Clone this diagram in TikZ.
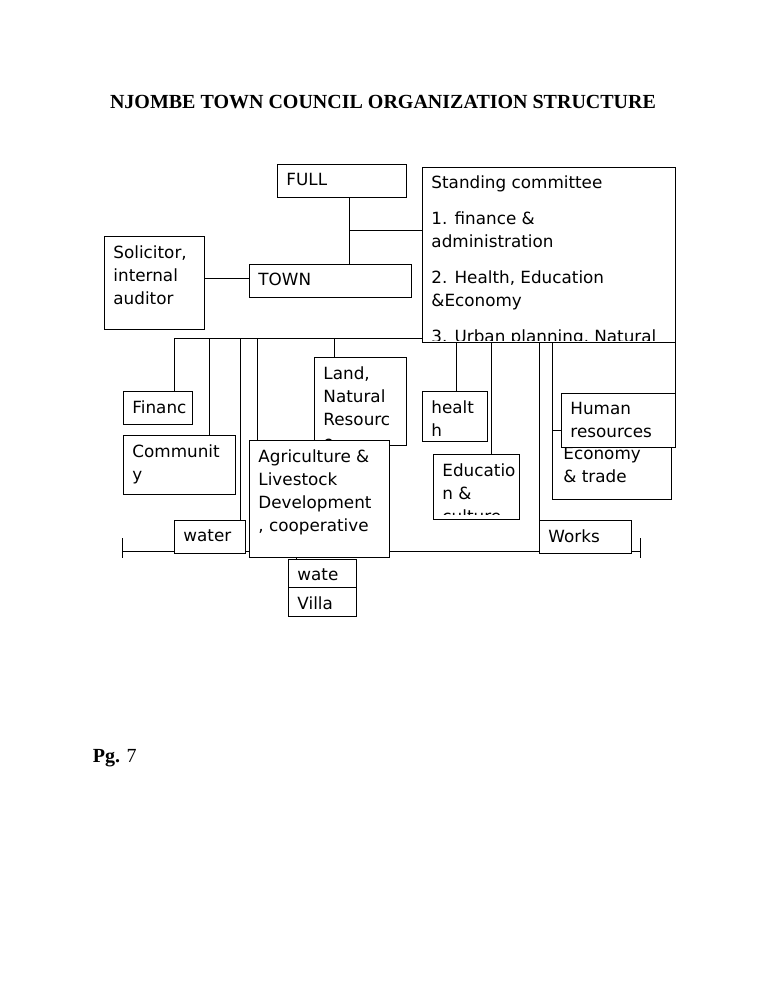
\documentclass[tikz,border=0pt]{standalone}
\usepackage{fontspec}
\setmainfont{Liberation Serif}
\newfontfamily\dv{DejaVu Sans}
\begin{document}
\begin{tikzpicture}[x=1pt,y=-1pt,line width=0.9pt]
\newcommand\bxfont{\dv\fontsize{16.8}{23}\selectfont}
\newcommand\bx[6]{\begin{scope}\draw[fill=white] (#2,#3) rectangle (#4,#5); \clip (#2,#3) rectangle (#4,#5-5);
 \node[name=#1,anchor=north west,align=left,inner sep=0,font=\bxfont] at (#2+9,#3+9) {#6};\end{scope}}
\useasboundingbox[fill=white] (0,0) rectangle (768,994);
\node[font=\bfseries\fontsize{20}{24}\selectfont] (title) at (383,102) {NJOMBE TOWN COUNCIL ORGANIZATION STRUCTURE};
\node[anchor=west,font=\fontsize{20}{24}\selectfont] (pg) at (89,758) {\textbf{Pg.} 7};
% connectors
\draw (349,197) -- (349,264) (349,230) -- (422,230) (204,278) -- (249,278);
\draw (174,338) -- (422,338);
\draw (174,338) -- (174,391) (209,338) -- (209,436) (240,338) -- (240,521) (257,338) -- (257,441) (334,338) -- (334,357);
\draw (456,342) -- (456,391) (491,342) -- (491,454) (539,342) -- (539,521) (552,342) -- (552,441) (675,342) -- (675,393);
\draw (122,551) -- (640,551) (122,538) -- (122,558) (640,538) -- (640,558);
\draw (296,557) -- (296,559);
% boxes
\bx{full}{277}{164}{406}{197}{FULL}
\bx{sol}{104}{236}{204}{329}{Solicitor,\\internal\\auditor}
\bx{town}{249}{264}{411}{297}{TOWN}
\bx{fin}{123}{391}{192}{424}{Financ}
\bx{com}{123}{435}{235}{494}{Communit\\y}
\bx{land}{314}{357}{406}{445}{Land,\\Natural\\Resourc\\e}
\bx{water}{174}{520}{245}{553}{water}
\bx{agri}{249}{440}{389}{557}{Agriculture \&\\Livestock\\Development\\, cooperative}
\bx{health}{422}{391}{487}{441}{healt\\h}
\bx{edu}{433}{454}{519}{519}{Educatio\\n \&\\culture}
\bx{eco}{552}{430}{671}{499}{}
\node[anchor=north west,inner sep=0,align=left,font=\bxfont] (ecot) at (563,447) {Economy\\\& trade};
\bx{hr}{561}{393}{675}{447}{Human\\resources}
\bx{works}{539}{520}{631}{553}{Works}
\bx{wate}{288}{559}{356}{587}{wate}
\bx{villa}{288}{587}{356}{616}{Villa}
\begin{scope}
\draw[fill=white] (422,167) rectangle (675,342); \clip (422,167) rectangle (675,340);
\node[anchor=north west,inner sep=0,align=left,font=\bxfont] (sc) at (431,175) {Standing committee\\[13pt]1. finance \&\\administration\\[13pt]2. Health, Education\\\&Economy\\[13pt]3. Urban planning, Natural};
\end{scope}
\end{tikzpicture}
\end{document}
